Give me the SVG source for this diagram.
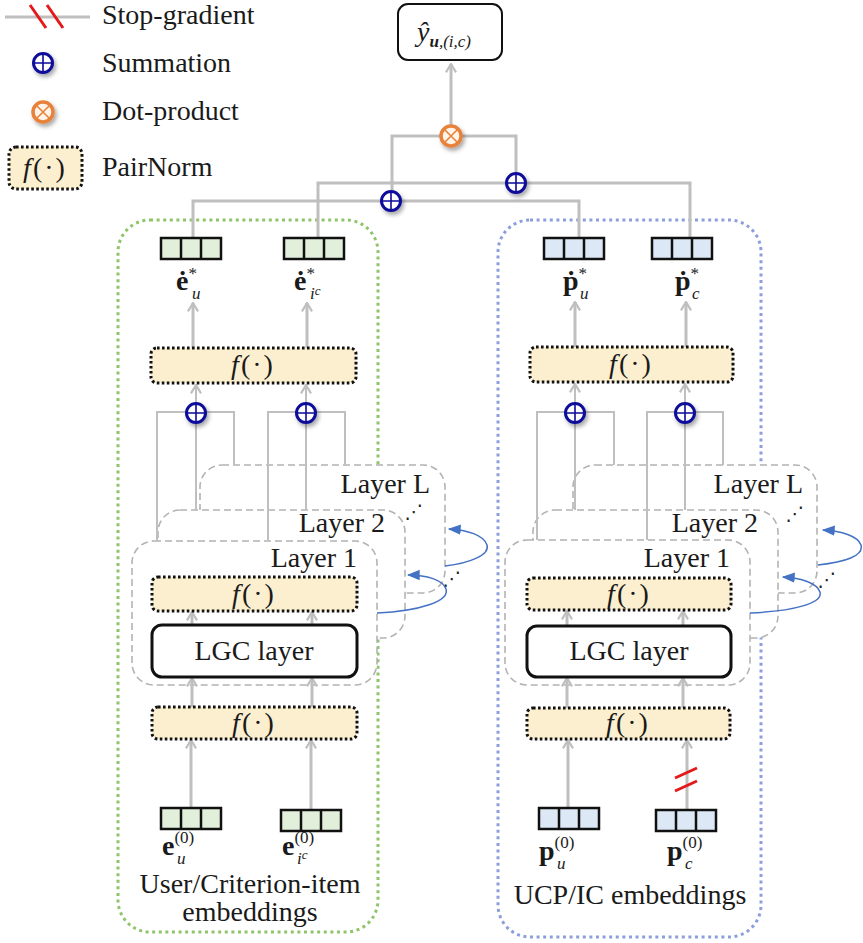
<svg xmlns="http://www.w3.org/2000/svg" xmlns:xlink="http://www.w3.org/1999/xlink" width="863" height="943" viewBox="0 0 863 943">
<defs>
<style>
.t{font-family:"Liberation Serif","Times New Roman",serif;font-size:28px;fill:#1a1a1a}
.s{font-size:17px}
.c{font-size:13px}
.i{font-style:italic}
.bd{font-weight:bold}
.w{fill:none;stroke:#bfbfbf;stroke-width:3}
.wt{fill:none;stroke:#bfbfbf;stroke-width:2}
.ar{marker-end:url(#ga)}
.pn{fill:#fcefd0;stroke:#111;stroke-width:3;stroke-dasharray:2.6 2.4}
.lay{fill:#fff;stroke:#b3b3b3;stroke-width:1.6;stroke-dasharray:7 4}
.emb{stroke:#111;stroke-width:2.5}
.ge{fill:#e2efda}
.be{fill:#dce8f5}
.blue{fill:none;stroke:#4472c4;stroke-width:1.5;marker-end:url(#ba)}
.red{stroke:#e3191c;stroke-width:3}
.dots{font-family:"DejaVu Sans",sans-serif;font-size:19px;fill:#222}
</style>
<marker id="ga" viewBox="0 0 10 10" refX="9" refY="5" markerUnits="userSpaceOnUse" markerWidth="12" markerHeight="12" orient="auto">
<path d="M2,0.8 L9,5 L2,9.2" fill="none" stroke="#bfbfbf" stroke-width="1.8"/>
</marker>
<marker id="ba" viewBox="0 0 10 10" refX="9" refY="5" markerUnits="userSpaceOnUse" markerWidth="13" markerHeight="13" orient="auto">
<path d="M0,1 L10,5 L0,9 Z" fill="#4472c4"/>
</marker>
<filter id="sh" x="-60%" y="-60%" width="220%" height="220%">
<feDropShadow dx="2" dy="3" stdDeviation="2" flood-color="#000" flood-opacity="0.35"/>
</filter>
<g id="sum"><circle r="9.5" fill="#fff" stroke="#0a0a9a" stroke-width="3"/><path d="M-9.5,0H9.5M0,-9.5V9.5" stroke="#0a0a9a" stroke-width="1.6"/></g>
<g id="dot"><circle r="10" fill="#fff4ea" stroke="#e8823a" stroke-width="3.5"/><path d="M-6.5,-6.5L6.5,6.5M-6.5,6.5L6.5,-6.5" stroke="#e8823a" stroke-width="1.6"/></g>
<g id="cells"><rect width="60" height="21"/><path d="M20,0V21M40,0V21" fill="none"/></g>
</defs>
<rect width="863" height="943" fill="#fff"/>

<g id="legend">
<path class="w" d="M5,17H90"/>
<path class="red" d="M30,5L46,28M47,5L63,28"/>
<text class="t" x="102" y="24">Stop-gradient</text>
<use xlink:href="#sum" x="43" y="63" filter="url(#sh)"/>
<text class="t" x="102" y="72">Summation</text>
<use xlink:href="#dot" x="43" y="112" filter="url(#sh)"/>
<text class="t" x="102" y="120">Dot-product</text>
<rect class="pn" x="9" y="147" width="73" height="42" rx="7"/>
<text class="t" x="45" y="177" text-anchor="middle" letter-spacing="2"><tspan class="i">f</tspan>(·)</text>
<text class="t" x="102" y="176">PairNorm</text>
</g>

<g id="containers">
<rect x="118" y="220" width="260" height="712" rx="32" fill="none" stroke="#8fc46a" stroke-width="3" stroke-dasharray="3 3.6"/>
<rect x="498" y="220" width="263" height="717" rx="32" fill="none" stroke="#8c9fdc" stroke-width="3" stroke-dasharray="3 3.6"/>
</g>

<g id="layers-left">
<rect class="lay" x="200" y="465" width="245" height="128" rx="22"/>
<rect class="lay" x="158" y="510" width="247" height="128" rx="22"/>
<rect class="lay" x="132" y="541" width="245" height="144" rx="22"/>
<text class="t" x="430" y="493" text-anchor="end">Layer L</text>
<text class="t" x="385" y="532" text-anchor="end">Layer 2</text>
<text class="t" x="357" y="567" text-anchor="end">Layer 1</text>
<text class="dots" x="414" y="518" text-anchor="middle">⋰</text>
<text class="dots" x="452" y="585" text-anchor="middle">⋰</text>
</g>
<g id="layers-right">
<rect class="lay" x="573" y="465" width="244" height="128" rx="22"/>
<rect class="lay" x="533" y="510" width="245" height="128" rx="22"/>
<rect class="lay" x="505" y="540" width="245" height="145" rx="22"/>
<text class="t" x="803" y="493" text-anchor="end">Layer L</text>
<text class="t" x="758" y="532" text-anchor="end">Layer 2</text>
<text class="t" x="730" y="567" text-anchor="end">Layer 1</text>
<text class="dots" x="795" y="520" text-anchor="middle">⋰</text>
<text class="dots" x="827" y="586" text-anchor="middle">⋰</text>
</g>

<g id="connectors">
<path class="w" d="M193,238V201H579V238"/>
<path class="w" d="M318,238V183H690V238"/>
<path class="w" d="M392,201V136H516V183"/>
<path class="w ar" d="M451,125V64"/>
<path class="w ar" d="M193,348V303"/>
<path class="w ar" d="M307,348V303"/>
<path class="wt ar" d="M196,403V385"/>
<path class="wt ar" d="M306,403V385"/>
<path class="wt" d="M157,541V412H234V465M196,510V413"/>
<path class="wt" d="M268,541V412H345V465M306,510V413"/>
<path class="w ar" d="M192,625V612"/>
<path class="w ar" d="M312,625V612"/>
<path class="w ar" d="M192,707V678"/>
<path class="w ar" d="M312,707V678"/>
<path class="w ar" d="M191,808V740"/>
<path class="w ar" d="M311,810V740"/>
<path class="w ar" d="M575,347V302"/>
<path class="w ar" d="M686,347V302"/>
<path class="wt ar" d="M575,403V384"/>
<path class="wt ar" d="M685,403V384"/>
<path class="wt" d="M537,540V412H614V465M575,510V413"/>
<path class="wt" d="M647,540V412H723V465M685,510V413"/>
<path class="w ar" d="M567,626V611"/>
<path class="w ar" d="M683,626V611"/>
<path class="w ar" d="M567,708V678"/>
<path class="w ar" d="M683,708V678"/>
<path class="w ar" d="M568,808V740"/>
<path class="w ar" d="M687,810V740"/>
<path class="red" d="M675,778L697,768M675,791L697,781"/>
<path class="blue" d="M377,613C420,611 450,601 446,589C443,580 427,575 408,575"/>
<path class="blue" d="M445,566C470,563 490,555 487,545C484,535 467,530 449,529"/>
<path class="blue" d="M750,613C795,611 823,603 820,592C817,583 801,578 783,577"/>
<path class="blue" d="M818,565C845,562 864,556 861,545C858,536 841,531 823,530"/>
</g>

<g id="output">
<rect x="398" y="4" width="104" height="56" rx="10" fill="#fff" stroke="#111" stroke-width="2"/>
<text class="t" x="417" y="41"><tspan class="i">ŷ</tspan><tspan class="s i" font-size="18" dy="6"><tspan class="bd">u</tspan>,(i,c)</tspan></text>
</g>
<use id="dotprod" xlink:href="#dot" x="451" y="136" filter="url(#sh)"/>
<use id="sum-top-l" xlink:href="#sum" x="391" y="201" filter="url(#sh)"/>
<use id="sum-top-r" xlink:href="#sum" x="516" y="183" filter="url(#sh)"/>

<g id="emb-top-left">
<use xlink:href="#cells" class="emb ge" x="161" y="238"/>
<use xlink:href="#cells" class="emb ge" x="284" y="238"/>
<text class="t" x="176" y="290"><tspan class="bd">ė</tspan><tspan class="s" dy="-11">*</tspan><tspan class="s i" x="192" dy="20">u</tspan></text>
<text class="t" x="294" y="290"><tspan class="bd">ė</tspan><tspan class="s" dy="-11">*</tspan><tspan class="s i" x="310" dy="20">i</tspan><tspan class="c i" dy="-4">c</tspan></text>
</g>
<g id="emb-top-right">
<use xlink:href="#cells" class="emb be" x="544" y="238"/>
<use xlink:href="#cells" class="emb be" x="652" y="238"/>
<text class="t" x="563" y="290"><tspan class="bd">ṗ</tspan><tspan class="s" dy="-11">*</tspan><tspan class="s i" x="580" dy="20">u</tspan></text>
<text class="t" x="675" y="290"><tspan class="bd">ṗ</tspan><tspan class="s" dy="-11">*</tspan><tspan class="s i" x="692" dy="20">c</tspan></text>
</g>

<g id="pairnorm-top">
<rect class="pn" x="151" y="348" width="205" height="35" rx="6"/>
<text class="t" x="253" y="374" text-anchor="middle" letter-spacing="2"><tspan class="i">f</tspan>(·)</text>
<rect class="pn" x="530" y="347" width="203" height="35" rx="6"/>
<text class="t" x="631" y="373" text-anchor="middle" letter-spacing="2"><tspan class="i">f</tspan>(·)</text>
</g>
<g id="sums">
<use xlink:href="#sum" x="196" y="413" filter="url(#sh)"/>
<use xlink:href="#sum" x="306" y="413" filter="url(#sh)"/>
<use xlink:href="#sum" x="575" y="413" filter="url(#sh)"/>
<use xlink:href="#sum" x="685" y="413" filter="url(#sh)"/>
</g>

<g id="inner-left">
<rect class="pn" x="152" y="577" width="205" height="34" rx="6"/>
<text class="t" x="254" y="603" text-anchor="middle" letter-spacing="2"><tspan class="i">f</tspan>(·)</text>
<rect x="152" y="625" width="205" height="52" rx="10" fill="#fff" stroke="#111" stroke-width="3"/>
<text class="t" x="254" y="660" text-anchor="middle">LGC layer</text>
</g>
<g id="inner-right">
<rect class="pn" x="527" y="578" width="204" height="32" rx="6"/>
<text class="t" x="629" y="603" text-anchor="middle" letter-spacing="2"><tspan class="i">f</tspan>(·)</text>
<rect x="527" y="626" width="204" height="51" rx="10" fill="#fff" stroke="#111" stroke-width="3"/>
<text class="t" x="629" y="660" text-anchor="middle">LGC layer</text>
</g>

<g id="pairnorm-bottom">
<rect class="pn" x="152" y="707" width="205" height="32" rx="6"/>
<text class="t" x="254" y="732" text-anchor="middle" letter-spacing="2"><tspan class="i">f</tspan>(·)</text>
<rect class="pn" x="527" y="708" width="203" height="31" rx="6"/>
<text class="t" x="628" y="732" text-anchor="middle" letter-spacing="2"><tspan class="i">f</tspan>(·)</text>
</g>

<g id="emb-bottom-left">
<use xlink:href="#cells" class="emb ge" x="161" y="808"/>
<use xlink:href="#cells" class="emb ge" x="281" y="810"/>
<text class="t" x="162" y="855"><tspan class="bd">e</tspan><tspan class="s" dy="-12">(0)</tspan><tspan class="s i" x="177" dy="21">u</tspan></text>
<text class="t" x="282" y="855"><tspan class="bd">e</tspan><tspan class="s" dy="-12">(0)</tspan><tspan class="s i" x="297" dy="21">i</tspan><tspan class="c i" dy="-5">c</tspan></text>
<text class="t" x="250" y="893" text-anchor="middle">User/Criterion-item</text>
<text class="t" x="250" y="921" text-anchor="middle">embeddings</text>
</g>
<g id="emb-bottom-right">
<use xlink:href="#cells" class="emb be" x="539" y="808"/>
<use xlink:href="#cells" class="emb be" x="656" y="810"/>
<text class="t" x="539" y="860"><tspan class="bd">p</tspan><tspan class="s" dy="-12">(0)</tspan><tspan class="s i" x="557" dy="21">u</tspan></text>
<text class="t" x="667" y="860"><tspan class="bd">p</tspan><tspan class="s" dy="-12">(0)</tspan><tspan class="s i" x="685" dy="21">c</tspan></text>
<text class="t" x="630" y="904" text-anchor="middle">UCP/IC embeddings</text>
</g>
</svg>
